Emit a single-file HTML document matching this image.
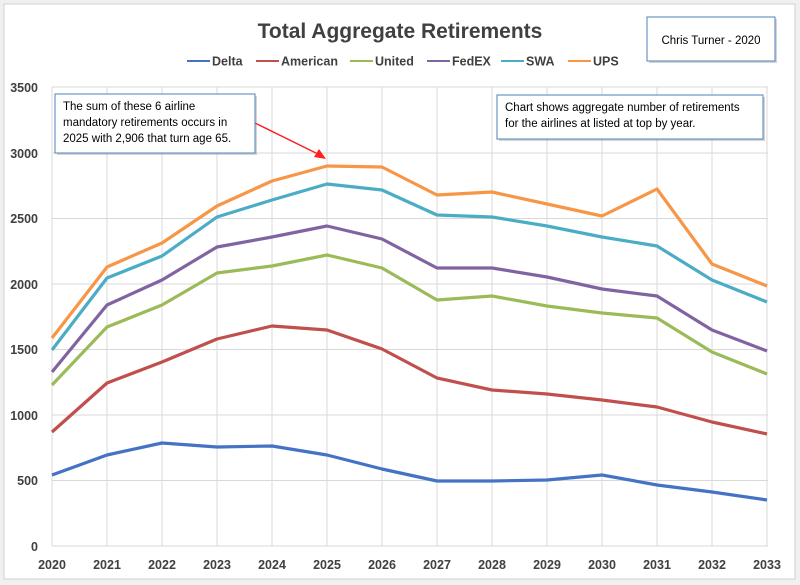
<!DOCTYPE html>
<html><head><meta charset="utf-8"><style>
body{margin:0;background:#fff;}
svg{display:block;font-family:"Liberation Sans",sans-serif;}
</style></head><body>
<svg width="800" height="585" viewBox="0 0 800 585" xmlns="http://www.w3.org/2000/svg">
<rect x="0" y="0" width="800" height="585" fill="#f0f0f0"/>
<rect x="4" y="4" width="791" height="575" fill="#fff" stroke="#d0d0d0"/>
<text x="400" y="38" text-anchor="middle" font-size="21" font-weight="bold" fill="#404040">Total  Aggregate Retirements</text>
<g font-size="12.5" font-weight="bold" fill="#404040">
<line x1="187" y1="61" x2="210" y2="61" stroke="#4472c4" stroke-width="2"/><text x="212" y="65.5">Delta</text>
<line x1="256" y1="61" x2="279" y2="61" stroke="#c0504d" stroke-width="2"/><text x="281" y="65.5">American</text>
<line x1="350" y1="61" x2="373" y2="61" stroke="#9bbb59" stroke-width="2"/><text x="375" y="65.5">United</text>
<line x1="427" y1="61" x2="450" y2="61" stroke="#8064a2" stroke-width="2"/><text x="452" y="65.5">FedEX</text>
<line x1="501" y1="61" x2="524" y2="61" stroke="#4bacc6" stroke-width="2"/><text x="526" y="65.5">SWA</text>
<line x1="568" y1="61" x2="591" y2="61" stroke="#f79646" stroke-width="2"/><text x="593" y="65.5">UPS</text>
</g>
<g stroke="#d9d9d9" stroke-width="1">
<line x1="52" y1="87" x2="768" y2="87"/><line x1="52" y1="153" x2="768" y2="153"/><line x1="52" y1="218.5" x2="768" y2="218.5"/><line x1="52" y1="284" x2="768" y2="284"/><line x1="52" y1="349.5" x2="768" y2="349.5"/><line x1="52" y1="415" x2="768" y2="415"/><line x1="52" y1="480.5" x2="768" y2="480.5"/><line x1="52" y1="546" x2="768" y2="546"/>
<line x1="52" y1="87" x2="52" y2="546"/><line x1="107" y1="87" x2="107" y2="546"/><line x1="162" y1="87" x2="162" y2="546"/><line x1="217" y1="87" x2="217" y2="546"/><line x1="272" y1="87" x2="272" y2="546"/><line x1="327" y1="87" x2="327" y2="546"/><line x1="382" y1="87" x2="382" y2="546"/><line x1="437" y1="87" x2="437" y2="546"/><line x1="492" y1="87" x2="492" y2="546"/><line x1="547" y1="87" x2="547" y2="546"/><line x1="602" y1="87" x2="602" y2="546"/><line x1="657" y1="87" x2="657" y2="546"/><line x1="712" y1="87" x2="712" y2="546"/><line x1="767" y1="87" x2="767" y2="546"/>
</g>
<g font-size="12.5" font-weight="bold" fill="#404040" text-anchor="end">
<text x="38" y="92">3500</text><text x="38" y="158">3000</text><text x="38" y="223">2500</text><text x="38" y="289">2000</text><text x="38" y="354">1500</text><text x="38" y="420">1000</text><text x="38" y="485">500</text><text x="38" y="551">0</text>
</g>
<g font-size="12.5" font-weight="bold" fill="#404040" text-anchor="middle">
<text x="52" y="569">2020</text><text x="107" y="569">2021</text><text x="162" y="569">2022</text><text x="217" y="569">2023</text><text x="272" y="569">2024</text><text x="327" y="569">2025</text><text x="382" y="569">2026</text><text x="437" y="569">2027</text><text x="492" y="569">2028</text><text x="547" y="569">2029</text><text x="602" y="569">2030</text><text x="657" y="569">2031</text><text x="712" y="569">2032</text><text x="767" y="569">2033</text>
</g>
<g fill="none" stroke-width="3.2" stroke-linejoin="round">
<polyline stroke="#4472c4" points="52,475 107,455 162,443 217,447 272,446 327,455 382,469 437,481 492,481 547,480 602,475 657,485 712,492 767,500"/>
<polyline stroke="#c0504d" points="52,432 107,383 162,362 217,339 272,326 327,330 382,349 437,378 492,390 547,394 602,400 657,407 712,422 767,434"/>
<polyline stroke="#9bbb59" points="52,385 107,327 162,305 217,273 272,266 327,255 382,268 437,300 492,296 547,306 602,313 657,318 712,352 767,374"/>
<polyline stroke="#8064a2" points="52,372 107,305 162,280 217,247 272,237 327,226 382,239 437,268 492,268 547,277 602,289 657,296 712,330 767,351"/>
<polyline stroke="#4bacc6" points="52,350 107,278 162,256 217,217 272,200 327,184 382,190 437,215 492,217 547,226 602,237 657,246 712,280 767,302"/>
<polyline stroke="#f79646" points="52,338 107,267 162,243 217,206 272,181 327,166 382,167 437,195 492,192 547,204 602,216 657,189 712,264 767,286"/>
</g>
<line x1="255" y1="123" x2="320" y2="155" stroke="#ff2020" stroke-width="1.5"/>
<polygon points="326,159 314,157 319,149" fill="#ff2020"/>
<rect x="57" y="96" width="200" height="59" fill="#888" opacity="0.35"/>
<rect x="55" y="94" width="200" height="59" fill="#fff" stroke="#4f81bd"/>
<g font-size="11.5" fill="#000"><text x="63" y="110">The sum of these 6 airline</text><text x="63" y="126">mandatory retirements occurs in</text><text x="63" y="142">2025  with 2,906  that turn age 65.</text></g>
<rect x="499" y="97" width="266" height="44" fill="#888" opacity="0.35"/>
<rect x="497" y="95" width="266" height="44" fill="#fff" stroke="#4f81bd"/>
<g font-size="11.5" fill="#000"><text x="505" y="111">Chart shows aggregate number of retirements</text><text x="505" y="127">for the airlines at listed at top by year.</text></g>
<rect x="649" y="19" width="128" height="44" fill="#888" opacity="0.35"/>
<rect x="647" y="17" width="128" height="44" fill="#fff" stroke="#4f81bd"/>
<text x="711" y="44" font-size="11.5" text-anchor="middle" fill="#000">Chris Turner - 2020</text>
</svg>
</body></html>
